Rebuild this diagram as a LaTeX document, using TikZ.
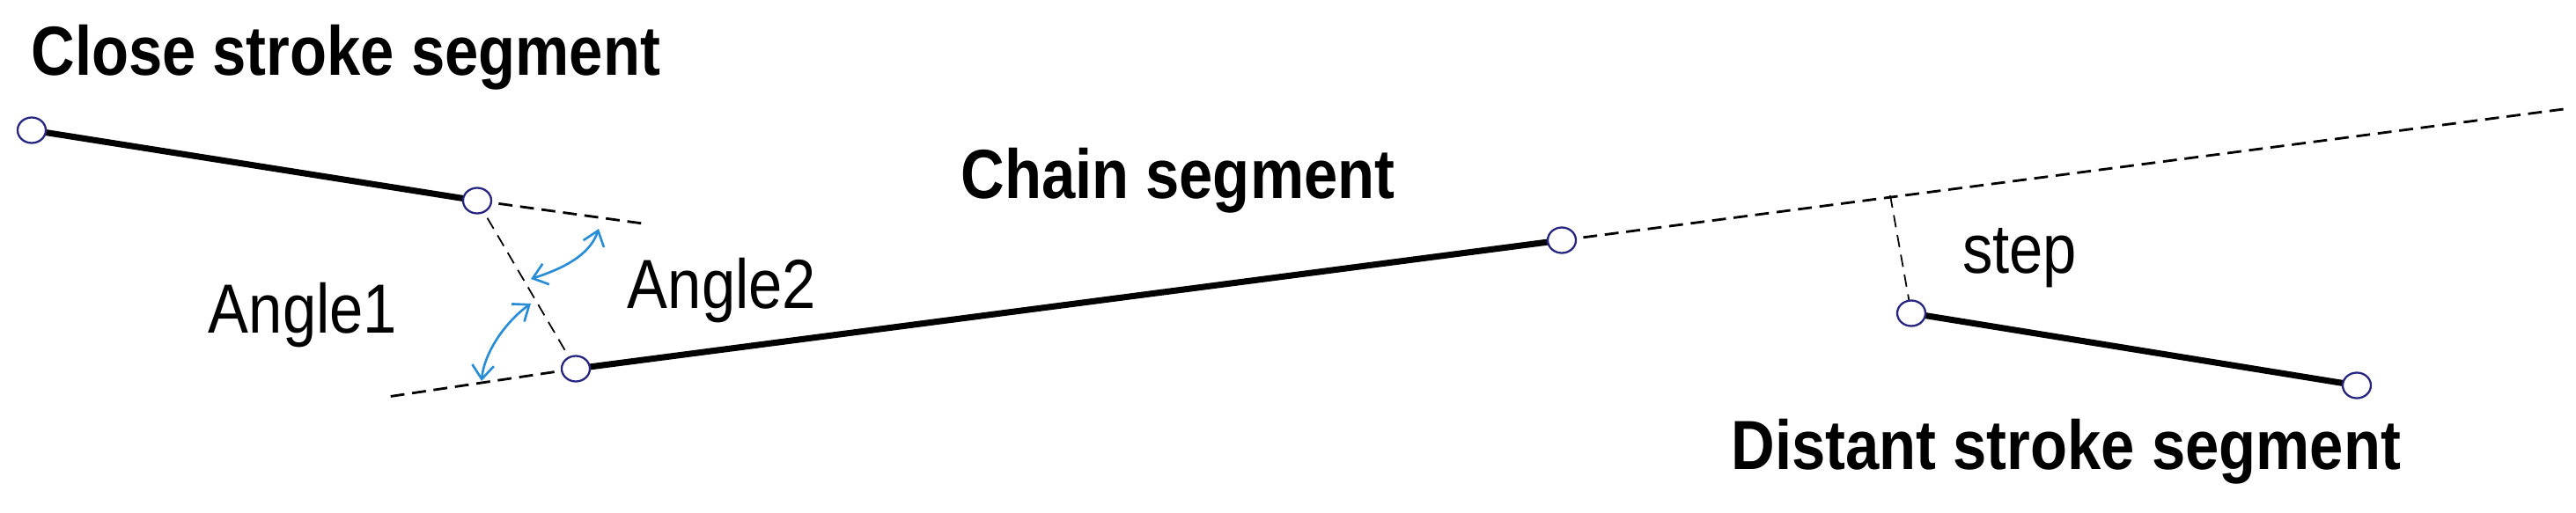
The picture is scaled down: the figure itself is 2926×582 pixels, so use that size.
\documentclass[tikz,border=0pt]{standalone}
\usepackage{fontspec}
\setmainfont[FakeStretch=0.87]{Liberation Sans}
\usetikzlibrary{arrows.meta}
\begin{document}
\begin{tikzpicture}[x=0.02cm,y=-0.02cm,
  seg/.style={line width=4pt},
  guide/.style={dashed,line width=1.6pt,dash pattern=on 9pt off 5pt},
  thin guide/.style={dashed,line width=1pt,dash pattern=on 8pt off 5pt},
  pt/.style={draw=black!50!blue!70!gray,line width=1.3pt,fill=white,ellipse,minimum width=0.64cm,minimum height=0.58cm,inner sep=0pt},
  ang/.style={draw={rgb,255:red,40;green,140;blue,215},line width=1.5pt,{Straight Barb[length=9pt,width=14pt]}-{Straight Barb[length=9pt,width=14pt]}},
  lbl/.style={font=\fontsize{45}{50}\selectfont,inner sep=0pt},
  blbl/.style={font=\fontsize{45}{50}\selectfont\bfseries,inner sep=0pt}]
\useasboundingbox (0,0) rectangle (2926,582);
\usetikzlibrary{shapes.geometric}
% coordinates
\coordinate (a) at (36,148);
\coordinate (b) at (542,228);
\coordinate (c) at (654,419);
\coordinate (d) at (1774,273);
\coordinate (e) at (2171,356);
\coordinate (f) at (2677,438);
\coordinate (bx) at (730,254);
\coordinate (cx) at (440,451);
\coordinate (dx) at (2912,124);
\coordinate (foot) at (2147,222);
% guides
\draw[guide] (b) -- (bx);
\draw[guide] (c) -- (cx);
\draw[guide] (d) -- (dx);
\draw[thin guide] (b) -- (c);
\draw[thin guide] (foot) -- (e);
% segments
\draw[seg] (a) -- (b);
\draw[seg] (c) -- (d);
\draw[seg] (e) -- (f);
% points
\foreach \p in {a,b,c,d,e,f} \node[pt] (n\p) at (\p) {};
% angle arrows
\coordinate (u1) at (603,317); \coordinate (u2) at (680,260);
\coordinate (l1) at (603,345); \coordinate (l2) at (547,433);
\draw[ang] (u1) .. controls (640,305) and (670,290) .. (u2);
\draw[ang] (l1) .. controls (575,365) and (550,400) .. (l2);
% labels
\node[blbl,anchor=base west] (t1) at (35,85) {Close stroke segment};
\node[blbl,anchor=base west] (t2) at (1091,225) {Chain segment};
\node[blbl,anchor=base west] (t3) at (1966,533) {Distant stroke segment};
\node[lbl] (t4) at (344,358) {Angle1};
\node[lbl] (t5) at (820,330) {Angle2};
\node[lbl] (t6) at (2294,293) {step};
\end{tikzpicture}
\end{document}
